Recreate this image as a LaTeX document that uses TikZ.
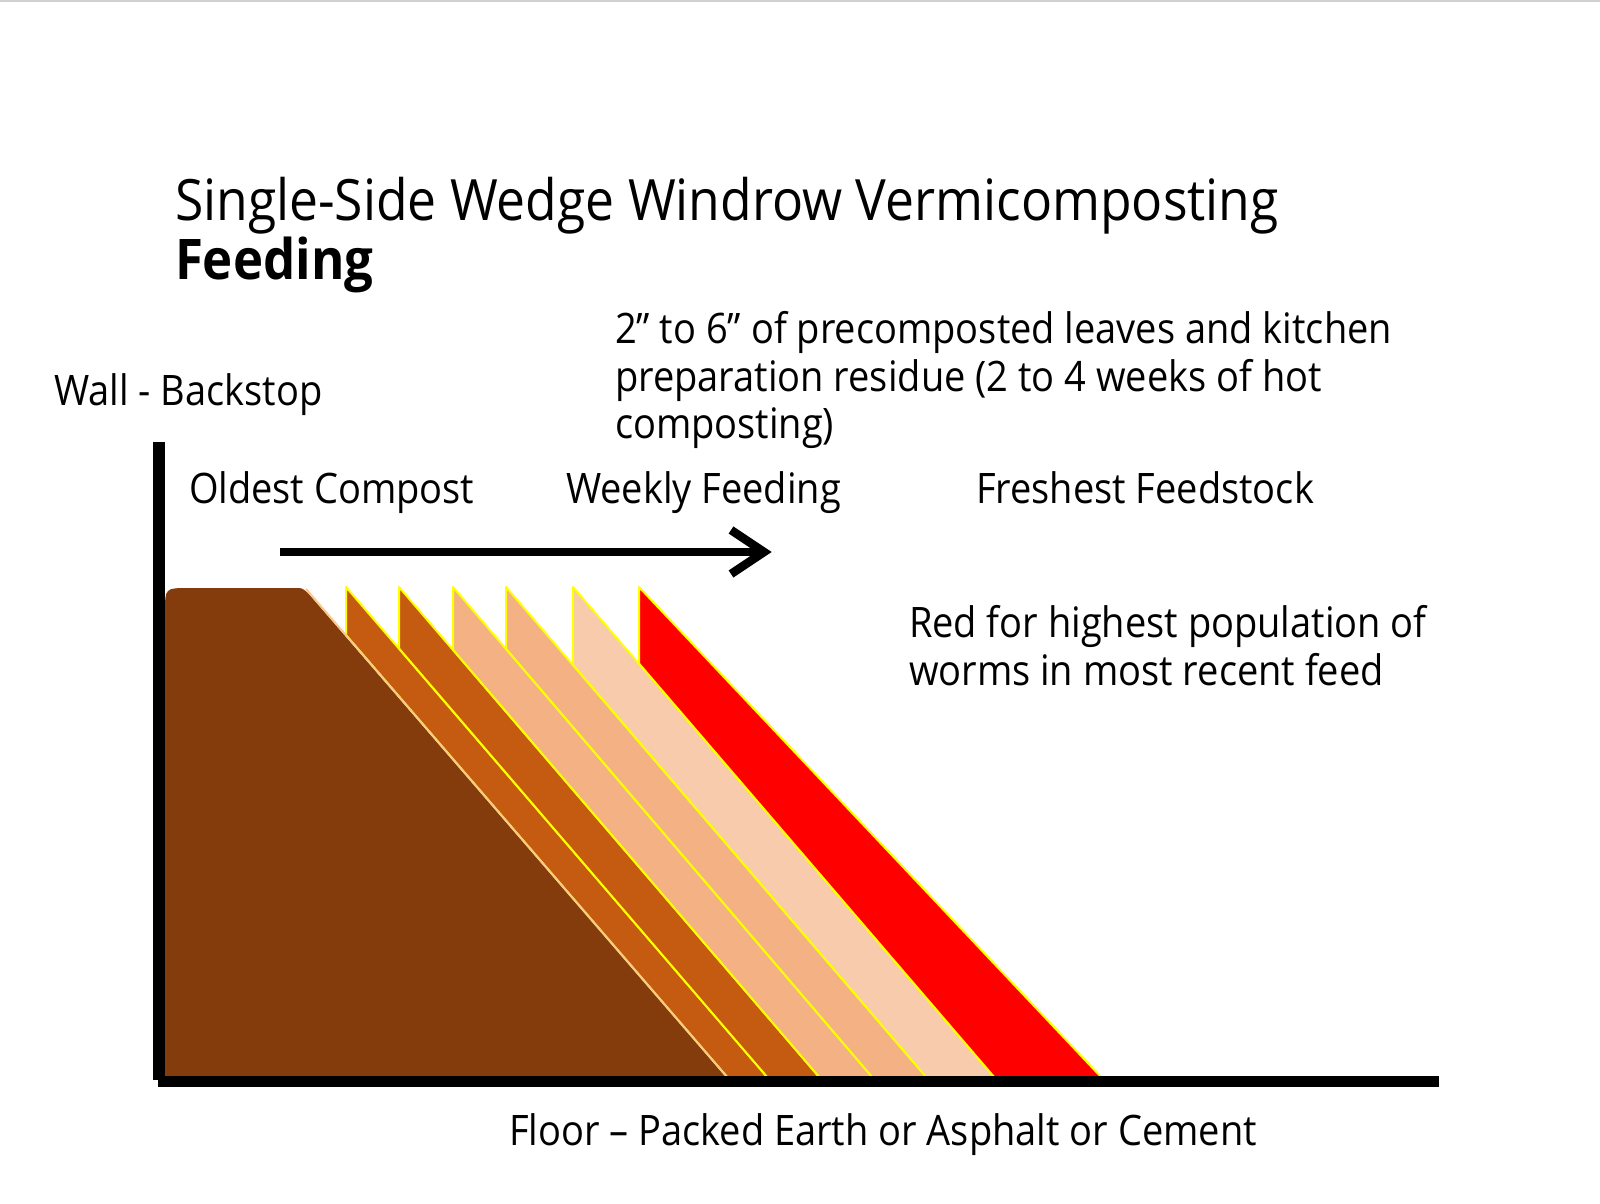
\documentclass[tikz,border=0pt]{standalone}
\usepackage{fontspec}
\setmainfont{Open Sans}[FakeStretch=0.905]
\newfontfamily\boldsans{Open Sans Bold}[FakeStretch=0.91]
\definecolor{compBrown}{HTML}{843C0C}
\definecolor{compOrange}{HTML}{C55A11}
\definecolor{compSalmon}{HTML}{F4B183}
\definecolor{compPeach}{HTML}{F8CBAD}
\definecolor{edgePale}{HTML}{F9C98B}
\definecolor{edgeYellow}{HTML}{FFFF00}
\definecolor{topGray}{HTML}{D0D0D0}
\tikzset{
  lbl/.style={anchor=base west, inner sep=0pt, outer sep=0pt, font=\fontsize{42}{48}\selectfont},
  ttl/.style={anchor=base west, inner sep=0pt, outer sep=0pt, font=\fontsize{57}{64}\selectfont},
  layer/.style={draw=edgeYellow, line width=2pt, line join=round},
  heavy/.style={line width=12pt, black},
}
\begin{document}
\begin{tikzpicture}[x=1pt,y=-1pt]
\useasboundingbox (0,0) rectangle (1600,1203);
\fill[white] (0,0) rectangle (1600,1203);
\draw[topGray, line width=1.6pt] (0,0.8) -- (1600,0.8);

% brown oldest compost
\fill[compBrown] (165,1078) -- (165,612) .. controls (165,588) and (165,588) .. (189,588)
  -- (296,588) .. controls (302,588) and (302,588) .. (308,593) -- (728,1078) -- cycle;
% layers
\filldraw[layer, fill=compOrange] (346,587) -- (768,1078) -- (728,1078) -- (346,635) -- cycle;
\filldraw[layer, fill=compOrange] (399,587) -- (820,1078) -- (768,1078) -- (399,648.4) -- cycle;
\filldraw[layer, fill=compSalmon] (453,587) -- (873,1078) -- (820,1078) -- (453,649.7) -- cycle;
\filldraw[layer, fill=compSalmon] (506,587) -- (927,1078) -- (873,1078) -- (506,648.7) -- cycle;
\filldraw[layer, fill=compPeach] (573,587) -- (995,1078) -- (927,1078) -- (573,664.8) -- cycle;
\filldraw[layer, fill=red] (639,587) -- (1102,1078) -- (995,1078) -- (639,663.5) -- cycle;
\draw[edgePale, line width=2pt] (306,589) -- (728,1078);

% wall and floor
\coordinate (wallTop) at (159,442);
\coordinate (wallBot) at (159,1080);
\coordinate (floorL) at (158,1081.5);
\coordinate (floorR) at (1439,1081.5);
\draw[heavy] (wallTop) -- (wallBot);
\draw[heavy, line width=11pt] (floorL) -- (floorR);

% arrow
\coordinate (arrS) at (280,552);
\coordinate (arrE) at (764,552);
\coordinate (barbA) at (731,530);
\coordinate (barbB) at (731,574);
\draw[line width=8.5pt] (arrS) -- (arrE);
\draw[line width=8.5pt, line join=miter, miter limit=3] (barbA) -- (arrE) -- (barbB);

% texts
\node[ttl] (title) at (175,220) {Single-Side Wedge Windrow Vermicomposting};
\node[ttl, font=\fontsize{56}{64}\boldsans] (feeding) at (175,279) {Feeding};
\node[lbl] (note1) at (615,343) {2” to 6” of precomposted leaves and kitchen};
\node[lbl] (note2) at (615,391) {preparation residue (2 to 4 weeks of hot};
\node[lbl] (note3) at (615,438) {composting)};
\node[lbl] (wall) at (54,405) {Wall - Backstop};
\node[lbl] (oldest) at (189,503) {Oldest Compost};
\node[lbl] (weekly) at (566,503) {Weekly Feeding};
\node[lbl] (freshest) at (976,503) {Freshest Feedstock};
\node[lbl] (red1) at (909,637) {Red for highest population of};
\node[lbl] (red2) at (909,685) {worms in most recent feed};
\node[lbl] (floor) at (509,1145) {Floor – Packed Earth or Asphalt or Cement};
\end{tikzpicture}
\end{document}
